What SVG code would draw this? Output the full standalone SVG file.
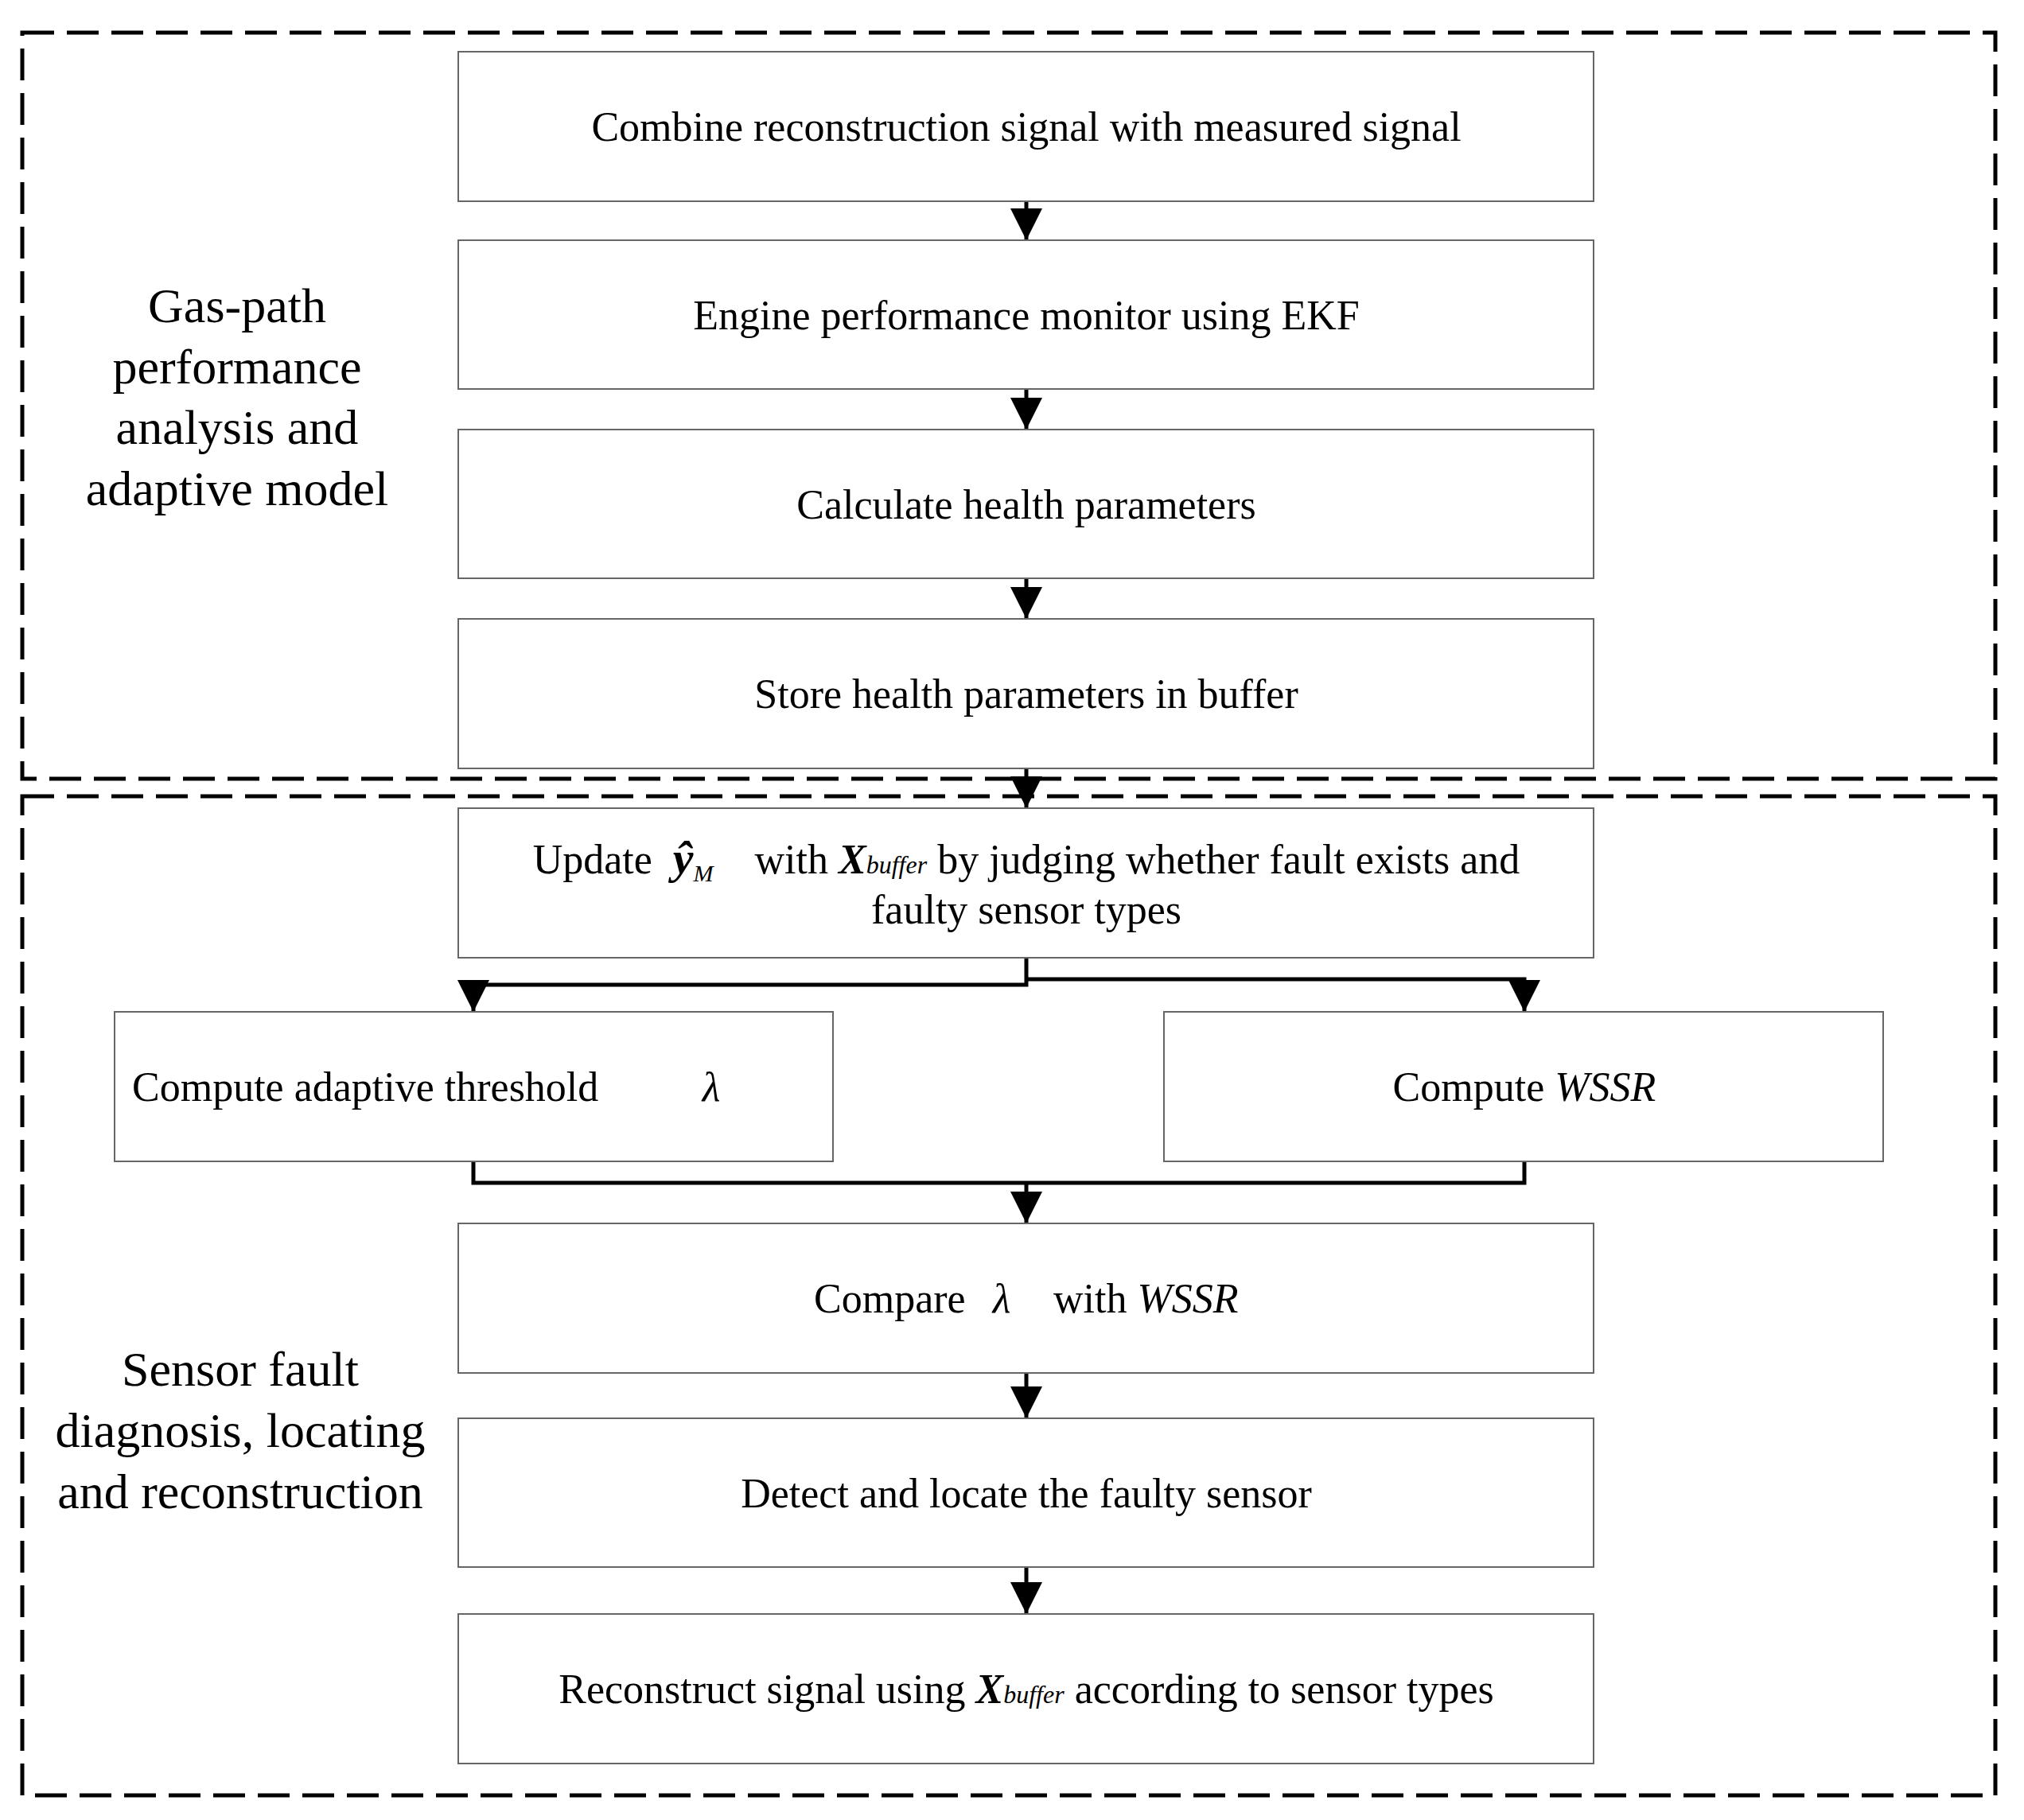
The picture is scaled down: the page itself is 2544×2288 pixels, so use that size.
<svg xmlns="http://www.w3.org/2000/svg" width="2544" height="2288" viewBox="0 0 2544 2288">
<style>
.b{fill:#fff;stroke:#666;stroke-width:2}
.d{fill:none;stroke:#000;stroke-width:5;stroke-dasharray:40 16}
.t{font-family:"Liberation Serif",serif;font-size:52px;fill:#000;text-anchor:middle}
.s{font-family:"Liberation Serif",serif;font-size:52px;fill:#000;text-anchor:start}
.l{font-family:"Liberation Serif",serif;font-size:62px;fill:#000;text-anchor:middle}
.c{fill:none;stroke:#000;stroke-width:5}
.i{font-style:italic}
</style>
<defs><marker id="a" markerWidth="8" markerHeight="8" refX="8" refY="4" orient="auto" markerUnits="strokeWidth"><path d="M0,0L8,4L0,8z" fill="#000"/></marker></defs>
<rect width="2544" height="2288" fill="#fff"/>
<g id="groups">
<rect class="d" x="28" y="41" width="2480" height="938"/>
<rect class="d" x="28" y="1001" width="2480" height="1256"/>
<text class="l" x="298" y="405">Gas-path</text>
<text class="l" x="298" y="482">performance</text>
<text class="l" x="298" y="558">analysis and</text>
<text class="l" x="298" y="635">adaptive model</text>
<text class="l" x="302" y="1742">Sensor fault</text>
<text class="l" x="302" y="1819">diagnosis, locating</text>
<text class="l" x="302" y="1896">and reconstruction</text>
</g>
<g id="connectors">
<path class="c" d="M1290,253V302" marker-end="url(#a)"/>
<path class="c" d="M1290,489V540" marker-end="url(#a)"/>
<path class="c" d="M1290,727V778" marker-end="url(#a)"/>
<path class="c" d="M1290,966V1016" marker-end="url(#a)"/>
<path class="c" d="M1290,1204V1238H595V1272" marker-end="url(#a)"/>
<path class="c" d="M1290,1231H1916V1272" marker-end="url(#a)"/>
<path class="c" d="M595,1460V1487H1916V1460"/>
<path class="c" d="M1290,1487V1538" marker-end="url(#a)"/>
<path class="c" d="M1290,1726V1783" marker-end="url(#a)"/>
<path class="c" d="M1290,1970V2029" marker-end="url(#a)"/>
</g>
<g id="n1"><rect class="b" x="576" y="65" width="1427" height="188"/><text class="t" x="1290" y="177">Combine reconstruction signal with measured signal</text></g>
<g id="n2"><rect class="b" x="576" y="302" width="1427" height="187"/><text class="t" x="1290" y="414">Engine performance monitor using EKF</text></g>
<g id="n3"><rect class="b" x="576" y="540" width="1427" height="187"/><text class="t" x="1290" y="652">Calculate health parameters</text></g>
<g id="n4"><rect class="b" x="576" y="778" width="1427" height="188"/><text class="t" x="1290" y="890">Store health parameters in buffer</text></g>
<g id="n5"><rect class="b" x="576" y="1016" width="1427" height="188"/>
<text class="t" x="1290" y="1098" xml:space="preserve"><tspan>Update  </tspan><tspan font-weight="bold" font-style="italic" font-size="58">ŷ</tspan><tspan class="i" font-size="30" dy="10">M</tspan><tspan dy="-10">    with </tspan><tspan font-weight="bold" font-style="italic">X</tspan><tspan class="i" font-size="32">buffer</tspan><tspan> by judging whether fault exists and</tspan></text>
<text class="t" x="1290" y="1161">faulty sensor types</text></g>
<g id="n6"><rect class="b" x="144" y="1272" width="903" height="188"/><text class="s" x="166" y="1384">Compute adaptive threshold</text><text class="t i" x="894" y="1384">λ</text></g>
<g id="n7"><rect class="b" x="1463" y="1272" width="904" height="188"/><text class="t" x="1916" y="1384">Compute <tspan class="i">WSSR</tspan></text></g>
<g id="n8"><rect class="b" x="576" y="1538" width="1427" height="188"/><text class="s" x="1023" y="1650">Compare</text><text class="t i" x="1259" y="1650">λ</text><text class="s" x="1324" y="1650">with <tspan class="i">WSSR</tspan></text></g>
<g id="n9"><rect class="b" x="576" y="1783" width="1427" height="187"/><text class="t" x="1290" y="1895">Detect and locate the faulty sensor</text></g>
<g id="n10"><rect class="b" x="576" y="2029" width="1427" height="188"/><text class="t" x="1290" y="2141">Reconstruct signal using <tspan font-weight="bold" font-style="italic">X</tspan><tspan class="i" font-size="32">buffer</tspan> according to sensor types</text></g>
</svg>
